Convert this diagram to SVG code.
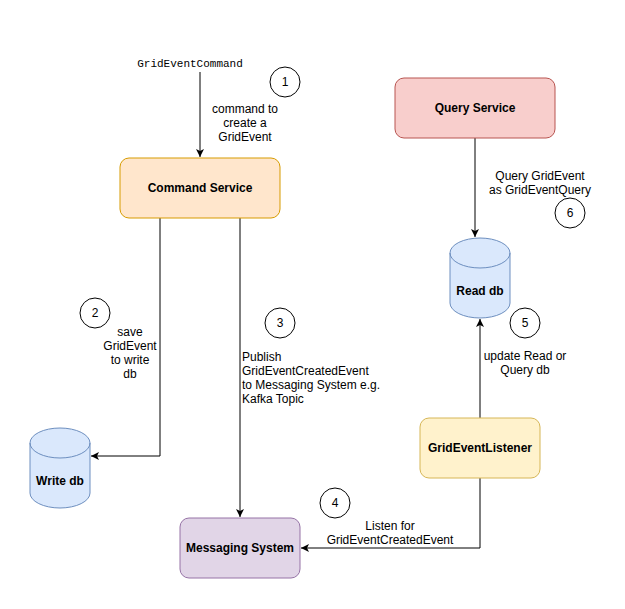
<svg xmlns="http://www.w3.org/2000/svg" width="625" height="609" viewBox="0 0 625 609">
<style>
text{font-family:"Liberation Sans",Arial,sans-serif;font-size:12px;fill:#000}
.b{font-weight:bold}
.c{fill:none;stroke:#000;stroke-width:1}
.e{stroke:#000;stroke-width:1;fill:none}
</style>
<defs><marker id="a" markerWidth="10" markerHeight="10" refX="8" refY="5" orient="auto" markerUnits="userSpaceOnUse"><path d="M0,1 L8,5 L0,9 L2,5 Z" fill="#000"/></marker></defs>
<rect width="625" height="609" fill="#fff"/>
<g id="connectors">
<path class="e" d="M200,72 V157" marker-end="url(#a)"/>
<path class="e" d="M160,218 V456 H91" marker-end="url(#a)"/>
<path class="e" d="M240,218 V517" marker-end="url(#a)"/>
<path class="e" d="M475,138 V237" marker-end="url(#a)"/>
<path class="e" d="M480,418 V319" marker-end="url(#a)"/>
<path class="e" d="M480,478 V548 H301" marker-end="url(#a)"/>
</g>
<g id="labels">
<text x="190" y="67" text-anchor="middle" style="font-family:'Liberation Mono',monospace;font-size:11px">GridEventCommand</text>
<text x="245" y="113" text-anchor="middle">command to</text>
<text x="245" y="127" text-anchor="middle">create a</text>
<text x="245" y="141" text-anchor="middle">GridEvent</text>
<text x="130" y="336" text-anchor="middle">save</text>
<text x="130" y="350" text-anchor="middle">GridEvent</text>
<text x="130" y="364" text-anchor="middle">to write</text>
<text x="130" y="378" text-anchor="middle">db</text>
<text x="242" y="361">Publish</text>
<text x="242" y="375">GridEventCreatedEvent</text>
<text x="242" y="389">to Messaging System e.g.</text>
<text x="242" y="403">Kafka Topic</text>
<text x="540" y="180" text-anchor="middle">Query GridEvent</text>
<text x="540" y="194" text-anchor="middle">as GridEventQuery</text>
<text x="525" y="360" text-anchor="middle">update Read or</text>
<text x="525" y="374" text-anchor="middle">Query db</text>
<text x="390" y="530" text-anchor="middle">Listen for</text>
<text x="390" y="544" text-anchor="middle">GridEventCreatedEvent</text>
</g>
<g id="n1"><circle class="c" cx="285" cy="82" r="15"/><text x="285" y="86" text-anchor="middle">1</text></g>
<g id="n2"><circle class="c" cx="95" cy="313" r="15"/><text x="95" y="317" text-anchor="middle">2</text></g>
<g id="n3"><circle class="c" cx="280" cy="323" r="15"/><text x="280" y="327" text-anchor="middle">3</text></g>
<g id="n4"><circle class="c" cx="335" cy="503" r="15"/><text x="335" y="507" text-anchor="middle">4</text></g>
<g id="n5"><circle class="c" cx="525" cy="323" r="15"/><text x="525" y="327" text-anchor="middle">5</text></g>
<g id="n6"><circle class="c" cx="570" cy="213" r="15"/><text x="570" y="217" text-anchor="middle">6</text></g>
<g id="command"><rect x="120" y="158" width="160" height="60" rx="9" fill="#ffe6cc" stroke="#d79b00"/><text x="200" y="192" text-anchor="middle" class="b">Command Service</text></g>
<g id="query"><rect x="395" y="78" width="160" height="60" rx="9" fill="#f8cecc" stroke="#b85450"/><text x="475" y="112" text-anchor="middle" class="b">Query Service</text></g>
<g id="messaging"><rect x="180" y="518" width="120" height="60" rx="9" fill="#e1d5e7" stroke="#9673a6"/><text x="240" y="552" text-anchor="middle" class="b">Messaging System</text></g>
<g id="listener"><rect x="420" y="418" width="120" height="60" rx="9" fill="#fff2cc" stroke="#d6b656"/><text x="480" y="452" text-anchor="middle" class="b">GridEventListener</text></g>
<g id="writedb"><path d="M30,443 A30,15 0 0 1 90,443 V493 A30,15 0 0 1 30,493 Z" fill="#dae8fc" stroke="#6c8ebf"/><path d="M30,443 A30,15 0 0 0 90,443" fill="none" stroke="#6c8ebf"/><text x="60" y="485" text-anchor="middle" class="b">Write db</text></g>
<g id="readdb"><path d="M450,253 A30,15 0 0 1 510,253 V303 A30,15 0 0 1 450,303 Z" fill="#dae8fc" stroke="#6c8ebf"/><path d="M450,253 A30,15 0 0 0 510,253" fill="none" stroke="#6c8ebf"/><text x="480" y="295" text-anchor="middle" class="b">Read db</text></g>
</svg>
